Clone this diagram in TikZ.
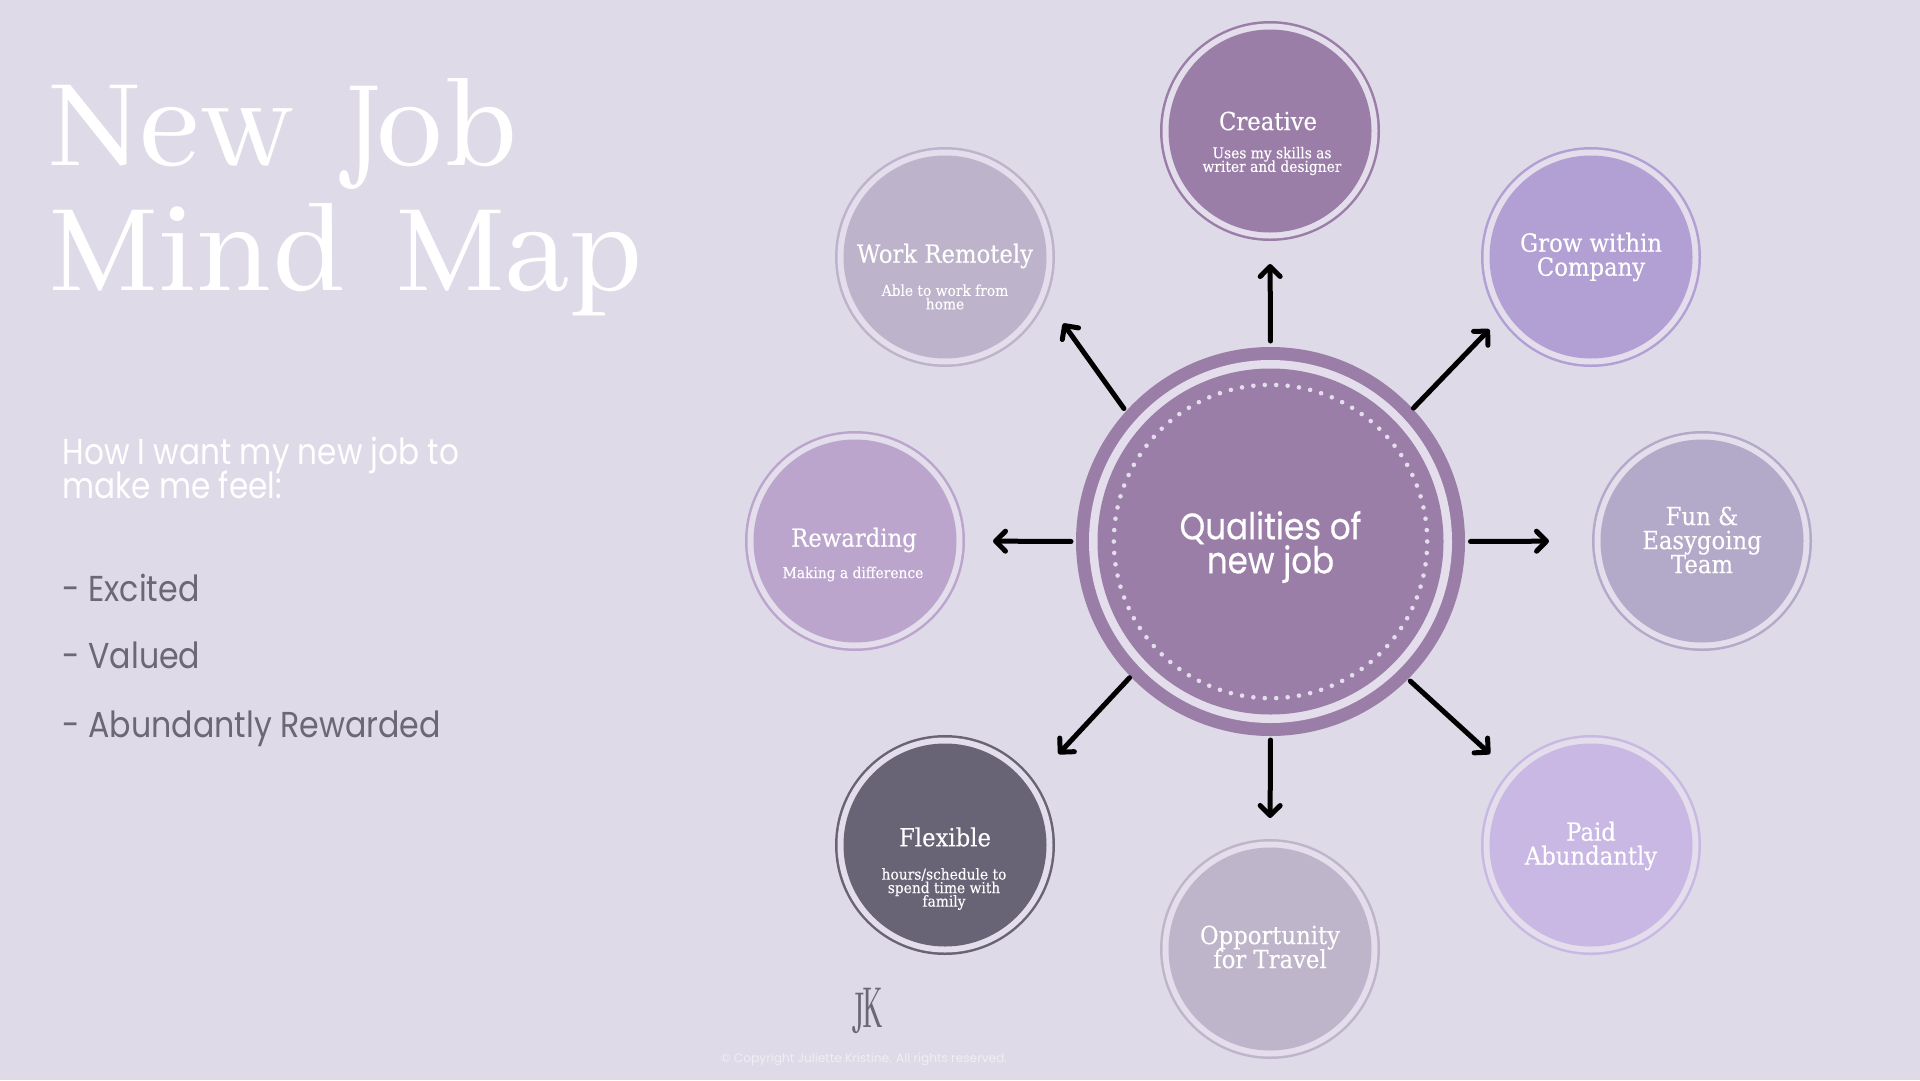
\documentclass[tikz,border=0pt]{standalone}
\usepackage{fontspec}
\usepackage{graphicx}
\usetikzlibrary{arrows.meta}
\setmainfont{DejaVu Serif}
\newfontfamily\titlefont{Abhaya Libre}
\newfontfamily\sansf[FakeStretch=0.88]{Poppins}
\newfontfamily\introf[FakeStretch=0.865]{Poppins}
\newfontfamily\hubf[FakeStretch=0.88,FakeBold=0.4]{Poppins}
\newfontfamily\slabf[FakeStretch=0.91,FakeBold=0.2]{DejaVu Serif}
\newfontfamily\slabsub[FakeStretch=0.92,FakeBold=0.15]{DejaVu Serif}
\newfontfamily\copyf{Poppins}
\newfontfamily\logof[FakeStretch=0.48]{Abhaya Libre}
\newcommand{\tightl}{\lineskiplimit=-100pt\relax}
\definecolor{bgc}{HTML}{DEDAE7}
\definecolor{ringc}{HTML}{E3DDEC}
\definecolor{hubc}{HTML}{9A7EA8}
\definecolor{wrc}{HTML}{BDB3CB}
\definecolor{growc}{HTML}{B29FD3}
\definecolor{rewc}{HTML}{BBA5CD}
\definecolor{func}{HTML}{B3A9C9}
\definecolor{paidc}{HTML}{C8B8E3}
\definecolor{oppc}{HTML}{BEB5CB}
\definecolor{flexc}{HTML}{686475}
\definecolor{greytext}{HTML}{6B6777}
\tikzset{
 x=1pt,y=-1pt,
 bubble/.style={circle,minimum size=220pt,inner sep=0pt,outer sep=0pt},
 head/.style={white,align=center,font=\tightl\slabf\fontsize{25}{24}\selectfont},
 sub/.style={white,align=center,font=\tightl\slabsub\fontsize{15}{13.5}\selectfont},
 conn/.style={line width=5pt,black,line cap=round,-{Straight Barb[length=10pt,width=20pt,line width=5pt,round]}},
 side/.style={anchor=base west,font=\sansf\fontsize{36}{34}\selectfont,greytext},
}
\newcommand{\ringdisc}[3]{% centre, colour
 \fill[#3] (#1,#2) circle (110);
 \fill[ringc] (#1,#2) circle (107.5);
 \fill[#3] (#1,#2) circle (101.5);
}
\begin{document}
\begin{tikzpicture}
\useasboundingbox (0,0) rectangle (1920,1080);
\fill[bgc] (0,0) rectangle (1920,1080);

\node[anchor=base west,white,font=\tightl\titlefont\fontsize{137}{125}\selectfont,align=left] (title) at (46,290) {New\hspace{24pt} \raisebox{-21pt}{\scalebox{.8}[1.25]{J}}\kern-6pt ob\\Mind\hspace{24pt} Map};
\node[anchor=base west,white,font=\tightl\introf\fontsize{36}{34}\selectfont,align=left] (intro) at (59,498) {How I want my new job to\\make me feel:};
\node[side] (f1) at (59,601) {- Excited};
\node[side] (f2) at (59,668) {- Valued};
\node[side] (f3) at (59,737) {- Abundantly Rewarded};

% hub
\fill[hubc] (1270.5,541.5) circle (194.5);
\fill[ringc] (1270.5,541.5) circle (181.5);
\fill[hubc] (1270.5,541.5) circle (173);
\foreach \a in {0,4.186,...,359}
  \fill[ringc] (1270.5,541.5) ++(\a:156.7) circle (2.3);
\node[circle,minimum size=389pt,inner sep=0pt,outer sep=0pt] (hub) at (1270.5,541.5) {};
\node[white,align=center,font=\tightl\hubf\fontsize{37}{34}\selectfont] (hubt) at (1270.5,547) {Qualities of\\new job};

% satellites
\ringdisc{1270}{131}{hubc}
\node[bubble] (creative) at (1270,131) {};
\node[head] (t1) at (1268,121) {Creative};
\node[sub] (s1) at (1272,161) {Uses my skills as\\writer and designer};

\ringdisc{945}{257}{wrc}
\node[bubble] (remote) at (945,257) {};
\node[head] (t2) at (945,256) {Work Remotely};
\node[sub] (s2) at (945,297) {Able to work from\\home};

\ringdisc{1591}{257}{growc}
\node[bubble] (grow) at (1591,257) {};
\node[head] (t3) at (1591,257) {Grow within\\Company};

\ringdisc{855}{541}{rewc}
\node[bubble] (reward) at (855,541) {};
\node[head] (t4) at (854,540) {Rewarding};
\node[sub] (s4) at (853,574) {Making a difference};

\ringdisc{1702}{541}{func}
\node[bubble] (fun) at (1702,541) {};
\node[head] (t5) at (1702,540) {Fun \&\\Easygoing\\Team};

\ringdisc{1591}{845}{paidc}
\node[bubble] (paid) at (1591,845) {};
\node[head] (t6) at (1591,846) {Paid\\Abundantly};

\ringdisc{945}{845}{flexc}
\node[bubble] (flex) at (945,845) {};
\node[head] (t7) at (945,837) {Flexible};
\node[sub] (s7) at (944,889) {hours/schedule to\\spend time with\\family};

\ringdisc{1270}{949}{oppc}
\node[bubble] (opp) at (1270,949) {};
\node[head] (t8) at (1270,947) {Opportunity\\for Travel};

% connectors
\draw[conn,shorten <=6pt,shorten >=23pt] (hub.90) -- (creative.270);
\draw[conn,shorten <=1pt,shorten >=15pt] (hub.43) -- (grow.214.2);
\draw[conn,shorten <=5.5pt,shorten >=43pt] (hub.0) -- (fun.180);
\draw[conn,shorten <=3pt,shorten >=26pt] (hub.-45.2) -- (paid.138);
\draw[conn,shorten <=4pt,shorten >=21pt] (hub.270) -- (opp.90);
\draw[conn,shorten <=1.5pt,shorten >=36pt] (hub.224.4) -- (flex.36.8);
\draw[conn,shorten <=5pt,shorten >=28pt] (hub.180) -- (reward.0);
\draw[conn,shorten <=3.5pt,shorten >=29pt] (hub.138.2) -- (remote.-23.1);

% logo and footer
\node[anchor=base,greytext,font=\logof\fontsize{67}{67}\selectfont] (logo) at (868,1027) {\raisebox{-5pt}{J}\kern-3ptK};
\node[white,opacity=.55,font=\copyf\fontsize{12.2}{13}\selectfont] (copy) at (864,1059.5) {© Copyright Juliette Kristine. All rights reserved.};
\end{tikzpicture}
\end{document}
